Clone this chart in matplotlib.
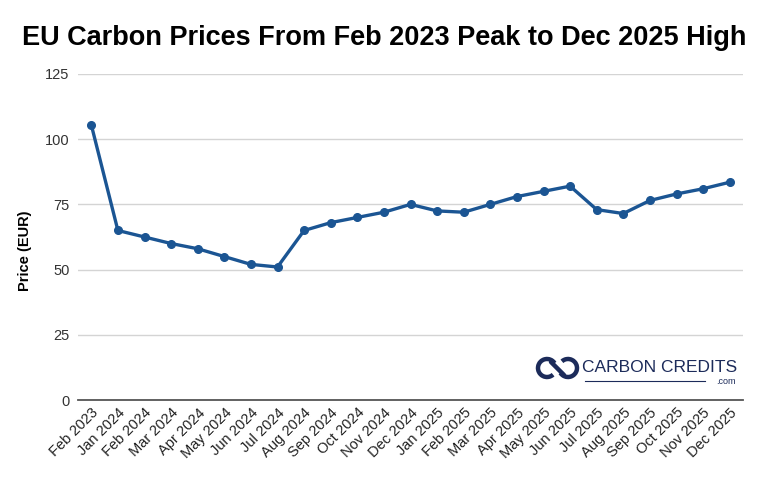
import matplotlib
matplotlib.use('Agg')
import matplotlib.pyplot as plt
from matplotlib.patches import Arc

plt.rcParams['font.family'] = ['Liberation Sans', 'DejaVu Sans']

months = ['Feb 2023', 'Jan 2024', 'Feb 2024', 'Mar 2024', 'Apr 2024', 'May 2024',
          'Jun 2024', 'Jul 2024', 'Aug 2024', 'Sep 2024', 'Oct 2024', 'Nov 2024',
          'Dec 2024', 'Jan 2025', 'Feb 2025', 'Mar 2025', 'Apr 2025', 'May 2025',
          'Jun 2025', 'Jul 2025', 'Aug 2025', 'Sep 2025', 'Oct 2025', 'Nov 2025',
          'Dec 2025']
prices = [105.5, 65, 62.5, 60, 58, 55, 52, 51, 65, 68, 70, 72, 75, 72.5, 72,
          75, 78, 80, 82, 73, 71.5, 76.5, 79, 81, 83.5]
yticks = [0, 25, 50, 75, 100, 125]

line_color = '#1b5593'
logo_color = '#1c2b5a'

W, H = 768, 487


def fx(px):
    return px / W


def fy(py):
    return 1 - py / H


fig = plt.figure(figsize=(7.68, 4.87), dpi=100)
ax = fig.add_axes([fx(78), fy(400), (743 - 78) / W, (400 - 74) / H])

x = range(len(months))
ax.plot(x, prices, color=line_color, lw=2.4, marker='o', ms=5.5, zorder=3)

ax.set_xlim(-0.5, len(months) - 0.5)
ax.set_ylim(0, 125)
ax.set_yticks(yticks)
ax.set_yticklabels([str(v) for v in yticks], fontsize=10.5, color='#333333')
ax.set_xticks(list(x))
ax.set_xticklabels(months, rotation=45, ha='right', rotation_mode='anchor',
                   fontsize=10.5, color='#222222')
ax.tick_params(axis='both', length=0, pad=6)
ax.tick_params(axis='x', pad=4)
ax.grid(axis='y', color='#d4d4d4', lw=1)
ax.set_axisbelow(True)
for side in ['top', 'right', 'left']:
    ax.spines[side].set_visible(False)
ax.spines['bottom'].set_color('#555555')
ax.spines['bottom'].set_linewidth(1.3)

ax.set_ylabel('Price (EUR)', fontsize=10.5, fontweight='bold')
ax.yaxis.set_label_coords(-0.069, 0.457)

fig.text(0.5, fy(38), 'EU Carbon Prices From Feb 2023 Peak to Dec 2025 High',
         ha='center', va='center', fontsize=19.5, fontweight='bold', color='black')

# logo
r = 18
fig.patches.append(Arc((fx(547), fy(368)), r / W, r / H, theta1=45, theta2=300,
                       transform=fig.transFigure, color=logo_color, lw=3.2))
fig.patches.append(Arc((fx(568), fy(368)), r / W, r / H, theta1=225, theta2=120,
                       transform=fig.transFigure, color=logo_color, lw=3.2))
fig.add_artist(plt.Line2D([fx(551), fx(564)], [fy(362), fy(375)],
                          transform=fig.transFigure, color=logo_color, lw=3.2,
                          solid_capstyle='round'))
fig.text(fx(582), fy(368), 'CARBON CREDITS', ha='left', va='center',
         fontsize=12.5, color=logo_color)
fig.add_artist(plt.Line2D([fx(585), fx(705)], [fy(381)] * 2,
                          transform=fig.transFigure, color=logo_color, lw=0.8))
fig.text(fx(736), fy(381), '.com', ha='right', va='center',
         fontsize=6.5, color=logo_color)

fig.savefig('out.png', dpi=100)
